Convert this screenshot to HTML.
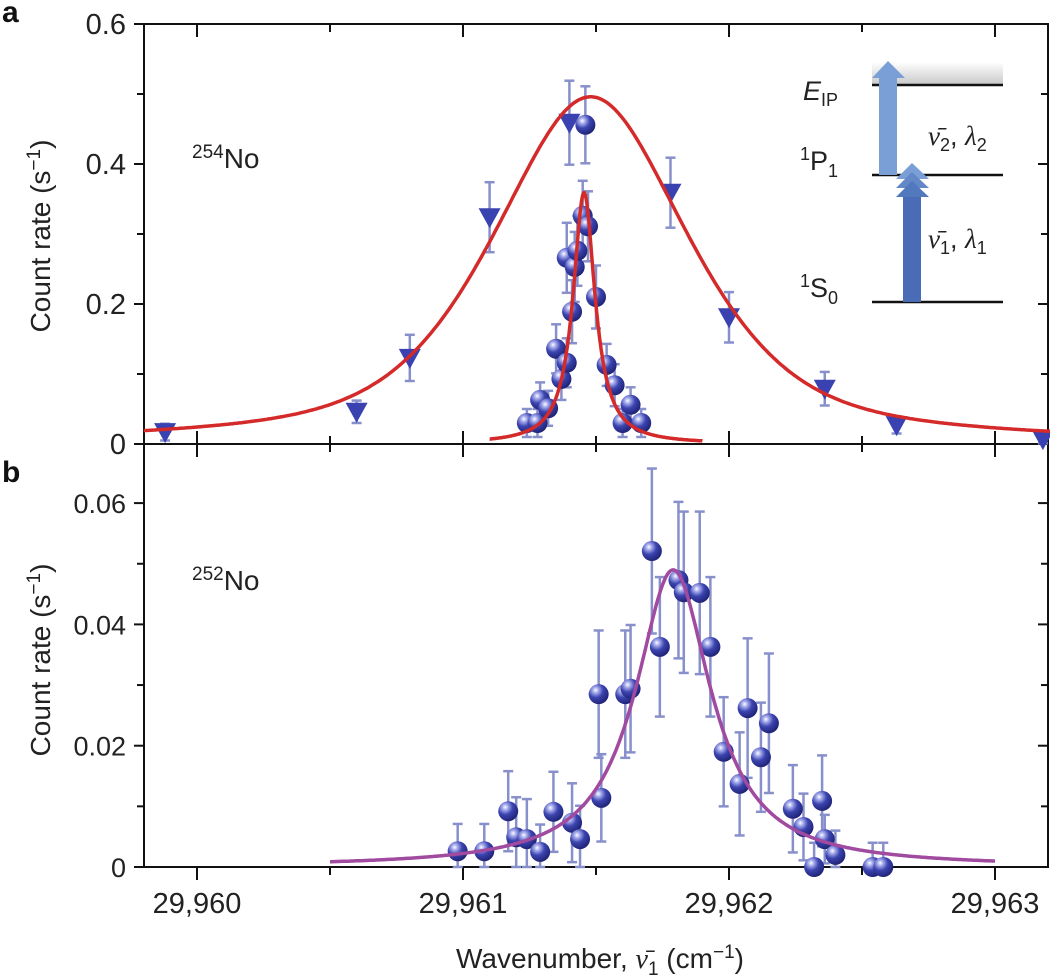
<!DOCTYPE html>
<html><head><meta charset="utf-8"><style>
body{margin:0;background:#fff;}
svg{display:block;font-family:"Liberation Sans",Arial,sans-serif;}
</style></head><body>
<svg id="c" width="1050" height="980" viewBox="0 0 1050 980">
<defs>
<radialGradient id="ball" cx="0.35" cy="0.3" r="0.75">
<stop offset="0" stop-color="#ffffff"/><stop offset="0.18" stop-color="#aab0ee"/><stop offset="0.5" stop-color="#3c44b0"/><stop offset="1" stop-color="#1c2070"/>
</radialGradient>
<linearGradient id="ipg" x1="0" y1="1" x2="0" y2="0"><stop offset="0" stop-color="#c8c8c8"/><stop offset="1" stop-color="#ffffff"/></linearGradient>
</defs>
</svg>
<script>
// ---------- data ----------
const triX=[29959.88,29960.60,29960.80,29961.10,29961.40,29961.78,29962.00,29962.36,29962.63,29963.18];
const triY=[0.017,0.046,0.123,0.324,0.459,0.359,0.181,0.079,0.027,0.007];
const triErr=[0.012,0.016,0.033,0.05,0.06,0.05,0.036,0.024,0.012,0.006];
const a2X=[29961.24,29961.28,29961.29,29961.32,29961.35,29961.37,29961.39,29961.39,29961.41,29961.42,29961.43,29961.45,29961.46,29961.47,29961.50,29961.54,29961.57,29961.60,29961.63,29961.67];
const a2Y=[0.030,0.030,0.063,0.051,0.136,0.093,0.116,0.266,0.189,0.253,0.276,0.326,0.456,0.311,0.210,0.113,0.084,0.030,0.056,0.030];
const a2Err=[0.02,0.02,0.025,0.025,0.035,0.03,0.035,0.05,0.045,0.05,0.05,0.05,0.055,0.05,0.045,0.03,0.03,0.02,0.025,0.02];
const bX=[29960.98,29961.08,29961.17,29961.20,29961.24,29961.29,29961.34,29961.41,29961.44,29961.51,29961.52,29961.61,29961.63,29961.71,29961.74,29961.81,29961.83,29961.89,29961.93,29961.98,29962.04,29962.07,29962.12,29962.15,29962.24,29962.28,29962.35,29962.32,29962.36,29962.40,29962.54,29962.58];
const bY=[0.0026,0.0026,0.0092,0.0049,0.0046,0.0025,0.0091,0.0073,0.0046,0.0285,0.0114,0.0285,0.0294,0.0521,0.0363,0.0473,0.0453,0.0452,0.0363,0.019,0.0137,0.0262,0.0181,0.0237,0.0096,0.0066,0.0109,0.0,0.0046,0.002,0.0,0.0];
const bErr=[0.0045,0.0045,0.0066,0.0066,0.0066,0.0045,0.0066,0.0065,0.0055,0.0105,0.0072,0.0105,0.0105,0.0136,0.0115,0.0129,0.0133,0.0134,0.0115,0.009,0.0085,0.0115,0.009,0.0115,0.0072,0.0055,0.0075,0.004,0.004,0.004,0.004,0.004];
const fitA1={c:29961.48,amp:0.496,fwhm:0.88,eta:0.6,x0:29959.80,x1:29963.22};
const fitA2={c:29961.455,amp:0.359,fwhm:0.10,x0:29961.10,x1:29961.90};
const fitB={c:29961.79,amp:0.049,fwhm:0.346,x0:29960.5,x1:29963.0};
const xTicks=[29960,29961,29962,29963];
const xTickLabels=["29,960","29,961","29,962","29,963"];
const aTicks=[0,0.2,0.4,0.6], aTickLabels=["0","0.2","0.4","0.6"];
const bTicks=[0,0.02,0.04,0.06], bTickLabels=["0","0.02","0.04","0.06"];

// ---------- scales ----------
const L=144,R=1048;
const X=v=>463+(v-29961)*266;
const YA=v=>444-v*700;
const YB=v=>867-v*6065;
const svg=document.getElementById('c');
const NS='http://www.w3.org/2000/svg';
function mk(tag,attrs,parent){const e=document.createElementNS(NS,tag);for(const k in attrs)e.setAttribute(k,attrs[k]);(parent||svg).appendChild(e);return e;}
function txt(s,x,y,size,anchor,parent){const t=mk('text',{x:x,y:y,'font-size':size,'text-anchor':anchor||'start',fill:'#222'},parent);t.textContent=s;return t;}

// ---------- axes ----------
const axes=mk('g',{});


mk('rect',{x:L,y:24,width:R-L,height:843,fill:'none',stroke:'#111','stroke-width':2},axes);
mk('line',{x1:L,y1:444,x2:R,y2:444,stroke:'#111','stroke-width':2},axes);
for(let v=29960;v<=29963.01;v+=0.5){
  const x=X(v),maj=Math.abs(v-Math.round(v))<1e-6,len=maj?13:8;
  mk('line',{x1:x,y1:867,x2:x,y2:867+len,stroke:'#111','stroke-width':2},axes);
  mk('line',{x1:x,y1:24,x2:x,y2:24+len,stroke:'#111','stroke-width':2},axes);
  mk('line',{x1:x,y1:444-len,x2:x,y2:444+len,stroke:'#111','stroke-width':2},axes);
}
xTicks.forEach((v,i)=>{const t=txt(xTickLabels[i],X(v),913,29,'middle');

});
for(let v=0;v<=0.6001;v+=0.1){const y=YA(v),len=Math.round(v*10)%2===0?10:7;
  mk('line',{x1:L-len,y1:y,x2:L,y2:y,stroke:'#111','stroke-width':2},axes);
  mk('line',{x1:R-len,y1:y,x2:R,y2:y,stroke:'#111','stroke-width':2},axes);}
aTicks.forEach((v,i)=>{const t=txt(aTickLabels[i],126,YA(v)+10,29,'end');

});
for(let v=0;v<=0.0651;v+=0.01){const y=YB(v),len=Math.round(v*100)%2===0?10:7;
  mk('line',{x1:L-len,y1:y,x2:L,y2:y,stroke:'#111','stroke-width':2},axes);
  mk('line',{x1:R-len,y1:y,x2:R,y2:y,stroke:'#111','stroke-width':2},axes);}
bTicks.forEach((v,i)=>{const t=txt(bTickLabels[i],126,YB(v)+10,27,'end');

});

// titles
function ylab(cy,name){const g=mk('text',{transform:`translate(50,${cy}) rotate(-90)`,'font-size':28,'text-anchor':'middle',fill:'#222'});
g.innerHTML='Count rate (s<tspan dy="-10" font-size="19">−1</tspan><tspan dy="10">)</tspan>';

}
ylab(236,'panel-a-y-axis-title');ylab(660,'panel-b-y-axis-title');
const xl=mk('text',{x:600,y:968,'font-size':28,'text-anchor':'middle',fill:'#222'});
xl.innerHTML='Wavenumber, <tspan font-family="Liberation Serif" font-style="italic">ν̄</tspan><tspan dy="7" font-size="19">1</tspan><tspan dy="-7"> (cm</tspan><tspan dy="-10" font-size="19">−1</tspan><tspan dy="10">)</tspan>';


const pa=mk('text',{x:2,y:22,'font-size':30,'font-weight':'bold',fill:'#111'});pa.textContent='a';


const pb=mk('text',{x:2,y:482,'font-size':30,'font-weight':'bold',fill:'#111'});pb.textContent='b';


const i254=mk('text',{x:192,y:168,'font-size':28,fill:'#222'});i254.innerHTML='<tspan font-size="19" dy="-10">254</tspan><tspan dy="10">No</tspan>';


const i252=mk('text',{x:192,y:590,'font-size':28,fill:'#222'});i252.innerHTML='<tspan font-size="19" dy="-10">252</tspan><tspan dy="10">No</tspan>';



// ---------- inset level scheme ----------
const ins=mk('g',{});


mk('rect',{x:872,y:62,width:131,height:23,fill:'url(#ipg)'},ins);
[85,175,302].forEach(y=>mk('line',{x1:872,y1:y,x2:1003,y2:y,stroke:'#111','stroke-width':2.5},ins));
mk('rect',{x:879,y:78,width:18,height:97,fill:'#7a9fd6'},ins);
mk('polygon',{points:'872,78 888,61 905,78',fill:'#7a9fd6'},ins);
mk('rect',{x:903,y:196,width:18,height:106,fill:'#4a6cb6'},ins);
[[163,'#7a9fd6'],[172,'#6288c8'],[181,'#5278be']].forEach(([y,c])=>mk('polygon',{points:`896,${y+16} 912,${y} 929,${y+16}`,fill:c},ins));
const tE=mk('text',{x:803,y:100,'font-size':27,fill:'#222'},ins);tE.innerHTML='<tspan font-style="italic">E</tspan><tspan font-size="18" dy="6">IP</tspan>';
const tP=mk('text',{x:800,y:170,'font-size':27,fill:'#222'},ins);tP.innerHTML='<tspan font-size="18" dy="-10">1</tspan><tspan dy="10">P</tspan><tspan font-size="18" dy="7">1</tspan>';
const tS=mk('text',{x:800,y:297,'font-size':27,fill:'#222'},ins);tS.innerHTML='<tspan font-size="18" dy="-10">1</tspan><tspan dy="10">S</tspan><tspan font-size="18" dy="7">0</tspan>';
const t2=mk('text',{x:928,y:145,'font-size':27,fill:'#222'},ins);t2.innerHTML='<tspan font-family="Liberation Serif" font-style="italic">ν̄</tspan><tspan font-size="18" dy="6">2</tspan><tspan dy="-6">, </tspan><tspan font-family="Liberation Serif" font-style="italic">λ</tspan><tspan font-size="18" dy="6">2</tspan>';
const t1=mk('text',{x:928,y:248,'font-size':27,fill:'#222'},ins);t1.innerHTML='<tspan font-family="Liberation Serif" font-style="italic">ν̄</tspan><tspan font-size="18" dy="6">1</tspan><tspan dy="-6">, </tspan><tspan font-family="Liberation Serif" font-style="italic">λ</tspan><tspan font-size="18" dy="6">1</tspan>';

// ---------- fits ----------
function lor(d,w){return 1/(1+Math.pow(2*d/w,2));}
function gau(d,w){return Math.exp(-4*Math.LN2*d*d/(w*w));}
function curve(f,fn,Y,color,name){let p='';for(let i=0;i<=400;i++){const v=f.x0+(f.x1-f.x0)*i/400;p+=(i?'L':'M')+X(v).toFixed(1)+','+Y(fn(v)).toFixed(1);}
const e=mk('path',{d:p,fill:'none',stroke:color,'stroke-width':3.5});

}

// ---------- markers ----------
function errbar(x,y1,y2,g){mk('line',{x1:x,y1:y1,x2:x,y2:y2,stroke:'#8890cc','stroke-width':2.5},g);
[y1,y2].forEach(y=>mk('line',{x1:x-5,y1:y,x2:x+5,y2:y,stroke:'#8890cc','stroke-width':2.5},g));}
const gA=mk('g',{});


triX.forEach((v,i)=>{const x=X(v);errbar(x,YA(triY[i]+triErr[i]),Math.min(444,YA(triY[i]-triErr[i])),gA);});
a2X.forEach((v,i)=>{const x=X(v);errbar(x,YA(a2Y[i]+a2Err[i]),Math.min(444,YA(a2Y[i]-a2Err[i])),gA);});
curve(fitA1,v=>{const d=v-fitA1.c;return fitA1.amp*(fitA1.eta*lor(d,fitA1.fwhm)+(1-fitA1.eta)*gau(d,fitA1.fwhm));},YA,'#d42a2a','broad-fit-254');
curve(fitA2,v=>fitA2.amp*lor(v-fitA2.c,fitA2.fwhm),YA,'#d42a2a','narrow-fit-254');
triX.forEach((v,i)=>{const x=X(v),y=YA(triY[i]);
const t=mk('polygon',{points:`${x-11},${y-9} ${x+11},${y-9} ${x},${y+11}`,fill:'#3942b0'},gA);

});
a2X.forEach((v,i)=>{const c=mk('circle',{cx:X(v),cy:YA(a2Y[i]),r:10,fill:'url(#ball)'},gA);

});

const gB=mk('g',{});


bX.forEach((v,i)=>{errbar(X(v),YB(bY[i]+bErr[i]),Math.min(867,YB(bY[i]-bErr[i])),gB);});
curve(fitB,v=>fitB.amp*lor(v-fitB.c,fitB.fwhm),YB,'#a04aa0','fit-252');
bX.forEach((v,i)=>{const c=mk('circle',{cx:X(v),cy:YB(bY[i]),r:10,fill:'url(#ball)'},gB);

});
</script>
</body></html>
